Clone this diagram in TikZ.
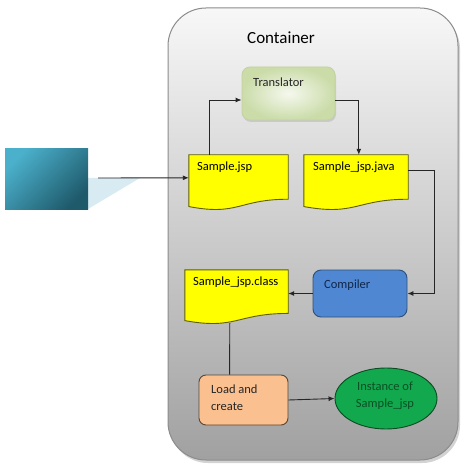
\documentclass[tikz,border=0pt]{standalone}
\usepackage{fontspec}
\setmainfont{Carlito}
\usetikzlibrary{calc,arrows.meta,shapes.geometric,shadows}
\definecolor{docfill}{HTML}{FFFF00}
\definecolor{docedge}{HTML}{5E5E00}
\definecolor{contedge}{HTML}{8C8C8C}
\definecolor{transA}{HTML}{CBDCA9}
\definecolor{transB}{HTML}{F5F8EE}
\definecolor{transedge}{HTML}{C3D3A0}
\definecolor{compfill}{HTML}{5087D2}
\definecolor{compedge}{HTML}{2F4F7A}
\definecolor{comptext}{HTML}{10264A}
\definecolor{loadfill}{HTML}{FAC090}
\definecolor{loadedge}{HTML}{5A4632}
\definecolor{instfill}{HTML}{12A84E}
\definecolor{instedge}{HTML}{0D4A22}
\definecolor{insttext}{HTML}{0B4F24}
\definecolor{srcA}{HTML}{4BB0CB}
\definecolor{srcB}{HTML}{1F5A6B}
\definecolor{srcshadow}{HTML}{D8EBF2}
\newcommand\docpath[1]{(#1.north west) -- (#1.north east) -- ($(#1.north east)!0.802!(#1.south east)$) .. controls ($(#1.north)!0.802!(#1.south)$) and ($(#1.north)!1.107!(#1.south)$) .. ($(#1.north west)!0.934!(#1.south west)$) -- cycle}
\begin{document}
\begin{tikzpicture}[x=1pt,y=-1pt,
  docnode/.style={rectangle, inner sep=0pt, minimum height=55pt},
  lbl/.style={font=\fontsize{12.5}{17}\selectfont, inner sep=0pt, anchor=west},
  conn/.style={draw=black!85, line width=0.9pt},
  arr/.style={conn, -{Latex[length=6pt,width=5pt]}},
  boxnode/.style={rectangle, rounded corners=8pt, line width=0.9pt, inner sep=0pt}]
\useasboundingbox (0,0) rectangle (474,468);
% container
\node[rectangle, rounded corners=38pt, draw=contedge, line width=1pt, top color=white!97!black, bottom color=black!37, minimum width=290pt, minimum height=452pt, drop shadow={opacity=0.35, shadow xshift=2pt, shadow yshift=-3pt}] (cont) at (313,234) {};
\node[lbl, font=\fontsize{17}{20}\selectfont] (contlbl) at (247,38) {Container};
% source box
\fill[srcshadow] (88,178) -- (140,178) -- (88,209) -- cycle;
\node[rectangle, minimum width=83pt, minimum height=60pt, top color=srcA, bottom color=srcB, shading angle=45] (src) at (46.5,179) {};
% documents
\node[docnode, minimum width=99pt] (sjsp) at (238.5,182.5) {};
\node[docnode, minimum width=104pt] (java) at (356,182.5) {};
\node[docnode, minimum width=103pt, minimum height=54pt] (class) at (236.5,297) {};
\foreach \d in {sjsp,java,class}{\filldraw[fill=docfill, draw=docedge, line width=0.9pt] \docpath{\d};}
\node[lbl] (sjsplbl) at (197,167.5) {Sample.jsp};
\node[lbl] (javalbl) at (313,167.5) {Sample\_jsp.java};
\node[lbl] (classlbl) at (193,282.5) {Sample\_jsp.class};
% translator
\node[boxnode, draw=transedge, inner color=transB, outer color=transA, minimum width=93pt, minimum height=53pt, drop shadow={opacity=0.25, shadow xshift=1pt, shadow yshift=-2pt}] (trans) at (288.5,93.5) {};
\node[lbl, text=black!85] (translbl) at (253,82) {Translator};
% compiler
\node[boxnode, draw=compedge, fill=compfill, minimum width=94pt, minimum height=47pt] (comp) at (360,293.5) {};
\node[lbl, text=comptext] (complbl) at (324,285) {Compiler};
% load and create
\node[boxnode, rounded corners=7pt, draw=loadedge, fill=loadfill, minimum width=89pt, minimum height=50pt] (load) at (243.5,400) {};
\node[lbl, align=left, text=black!85] (loadlbl) at (211,398) {Load and\\create};
% instance
\node[ellipse, draw=instedge, fill=instfill, line width=0.9pt, minimum width=102pt, minimum height=61pt, inner sep=0pt] (inst) at (386,398.5) {};
\node[lbl, anchor=center, align=center, text=insttext] (instlbl) at (385,396) {Instance of\\Sample\_jsp};
% connectors
\draw[arr] ($(src.east)+(10,-1)$) -- ($(sjsp.north west)+(0,23)$);
\draw[arr] ($(sjsp.north west)+(21,0)$) |- ($(trans.west)+(0,6.5)$);
\draw[arr] ($(trans.east)+(0,6.5)$) -| ($(java.north west)+(55,0)$);
\draw[arr] ($(java.north east)+(0,16)$) -| ($(comp.east)+(27,0)$) -- (comp.east);
\draw[arr] (comp.west) -- (comp.west -| class.east);
\draw[conn] ($(load.north west)+(31,0)$) -- ($(class.south west)+(45,-1)$);
\draw[arr] (load.east) -- (inst.west);
\end{tikzpicture}
\end{document}
